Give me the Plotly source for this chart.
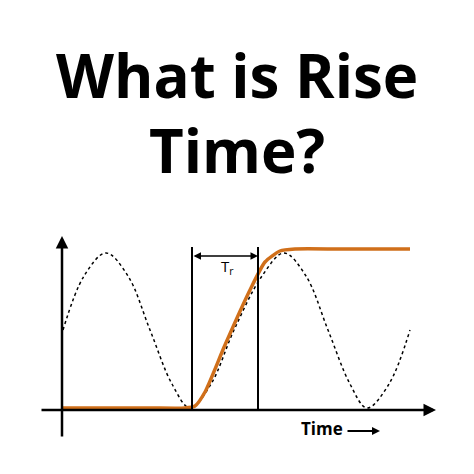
import plotly.graph_objects as go

# points (pixel-like units, y grows downward)
wave_x = [63, 84, 106, 128, 150, 172, 190, 211, 234, 262, 284, 306, 328, 350, 367, 389, 410]
wave_y = [330, 276, 253, 276, 330, 384, 408, 384, 330, 276, 253, 276, 330, 384, 408, 384, 330]

step_x = [62, 100, 150, 185, 195, 205, 225, 250, 265, 280, 295, 340, 410]
step_y = [408, 408, 408, 408, 406, 392, 345, 290, 262, 251, 249, 249, 249]

tr_start = 192
tr_end = 258

fig = go.Figure()
fig.add_trace(go.Scatter(x=wave_x, y=wave_y, mode="lines", line_shape="spline",
                         line=dict(color="black", width=1.5, dash="dot")))
fig.add_trace(go.Scatter(x=step_x, y=step_y, mode="lines", line_shape="spline",
                         line=dict(color="#d06f1a", width=3.5, smoothing=0.6)))

# axes with arrows
fig.add_annotation(x=436, y=410, ax=40, ay=410, xref="x", yref="y", axref="x", ayref="y",
                   text="", showarrow=True, arrowhead=2, arrowsize=1, arrowwidth=2.5, arrowcolor="black")
fig.add_annotation(x=62, y=236, ax=62, ay=438, xref="x", yref="y", axref="x", ayref="y",
                   text="", showarrow=True, arrowhead=2, arrowsize=1, arrowwidth=2.5, arrowcolor="black")

# rise time markers
for xv in [tr_start, tr_end]:
    fig.add_shape(type="line", x0=xv, x1=xv, y0=247, y1=410, line=dict(color="black", width=2))
fig.add_annotation(x=tr_end, y=256, ax=tr_start, ay=256, xref="x", yref="y", axref="x", ayref="y",
                   text="", showarrow=True, arrowhead=2, startarrowhead=2, arrowside="end+start",
                   arrowsize=1, arrowwidth=1.5, arrowcolor="black")
fig.add_annotation(x=227, y=267, text="T<sub>r</sub>", showarrow=False,
                   font=dict(family="Open Sans", size=15, color="black"))

fig.add_annotation(x=322, y=428, text="<b>Time</b>", showarrow=False,
                   font=dict(family="Open Sans", size=17, color="black"))
fig.add_annotation(x=380, y=431, ax=346, ay=431, xref="x", yref="y", axref="x", ayref="y",
                   text="", showarrow=True, arrowhead=2, arrowsize=0.8, arrowwidth=2, arrowcolor="black")

# title
fig.add_annotation(x=237, y=75, text="<b>What is Rise</b>", showarrow=False,
                   font=dict(family="Open Sans", size=60, color="black"))
fig.add_annotation(x=237, y=150, text="<b>Time?</b>", showarrow=False,
                   font=dict(family="Open Sans", size=60, color="black"))

# page body adds an 8px margin, so shift the ranges to compensate
fig.update_layout(width=474, height=474, margin=dict(l=0, r=0, t=0, b=0),
                  plot_bgcolor="white", paper_bgcolor="white", showlegend=False,
                  xaxis=dict(range=[8, 482], visible=False, fixedrange=True),
                  yaxis=dict(range=[482, 8], visible=False, fixedrange=True))
fig.write_html("out.html")
